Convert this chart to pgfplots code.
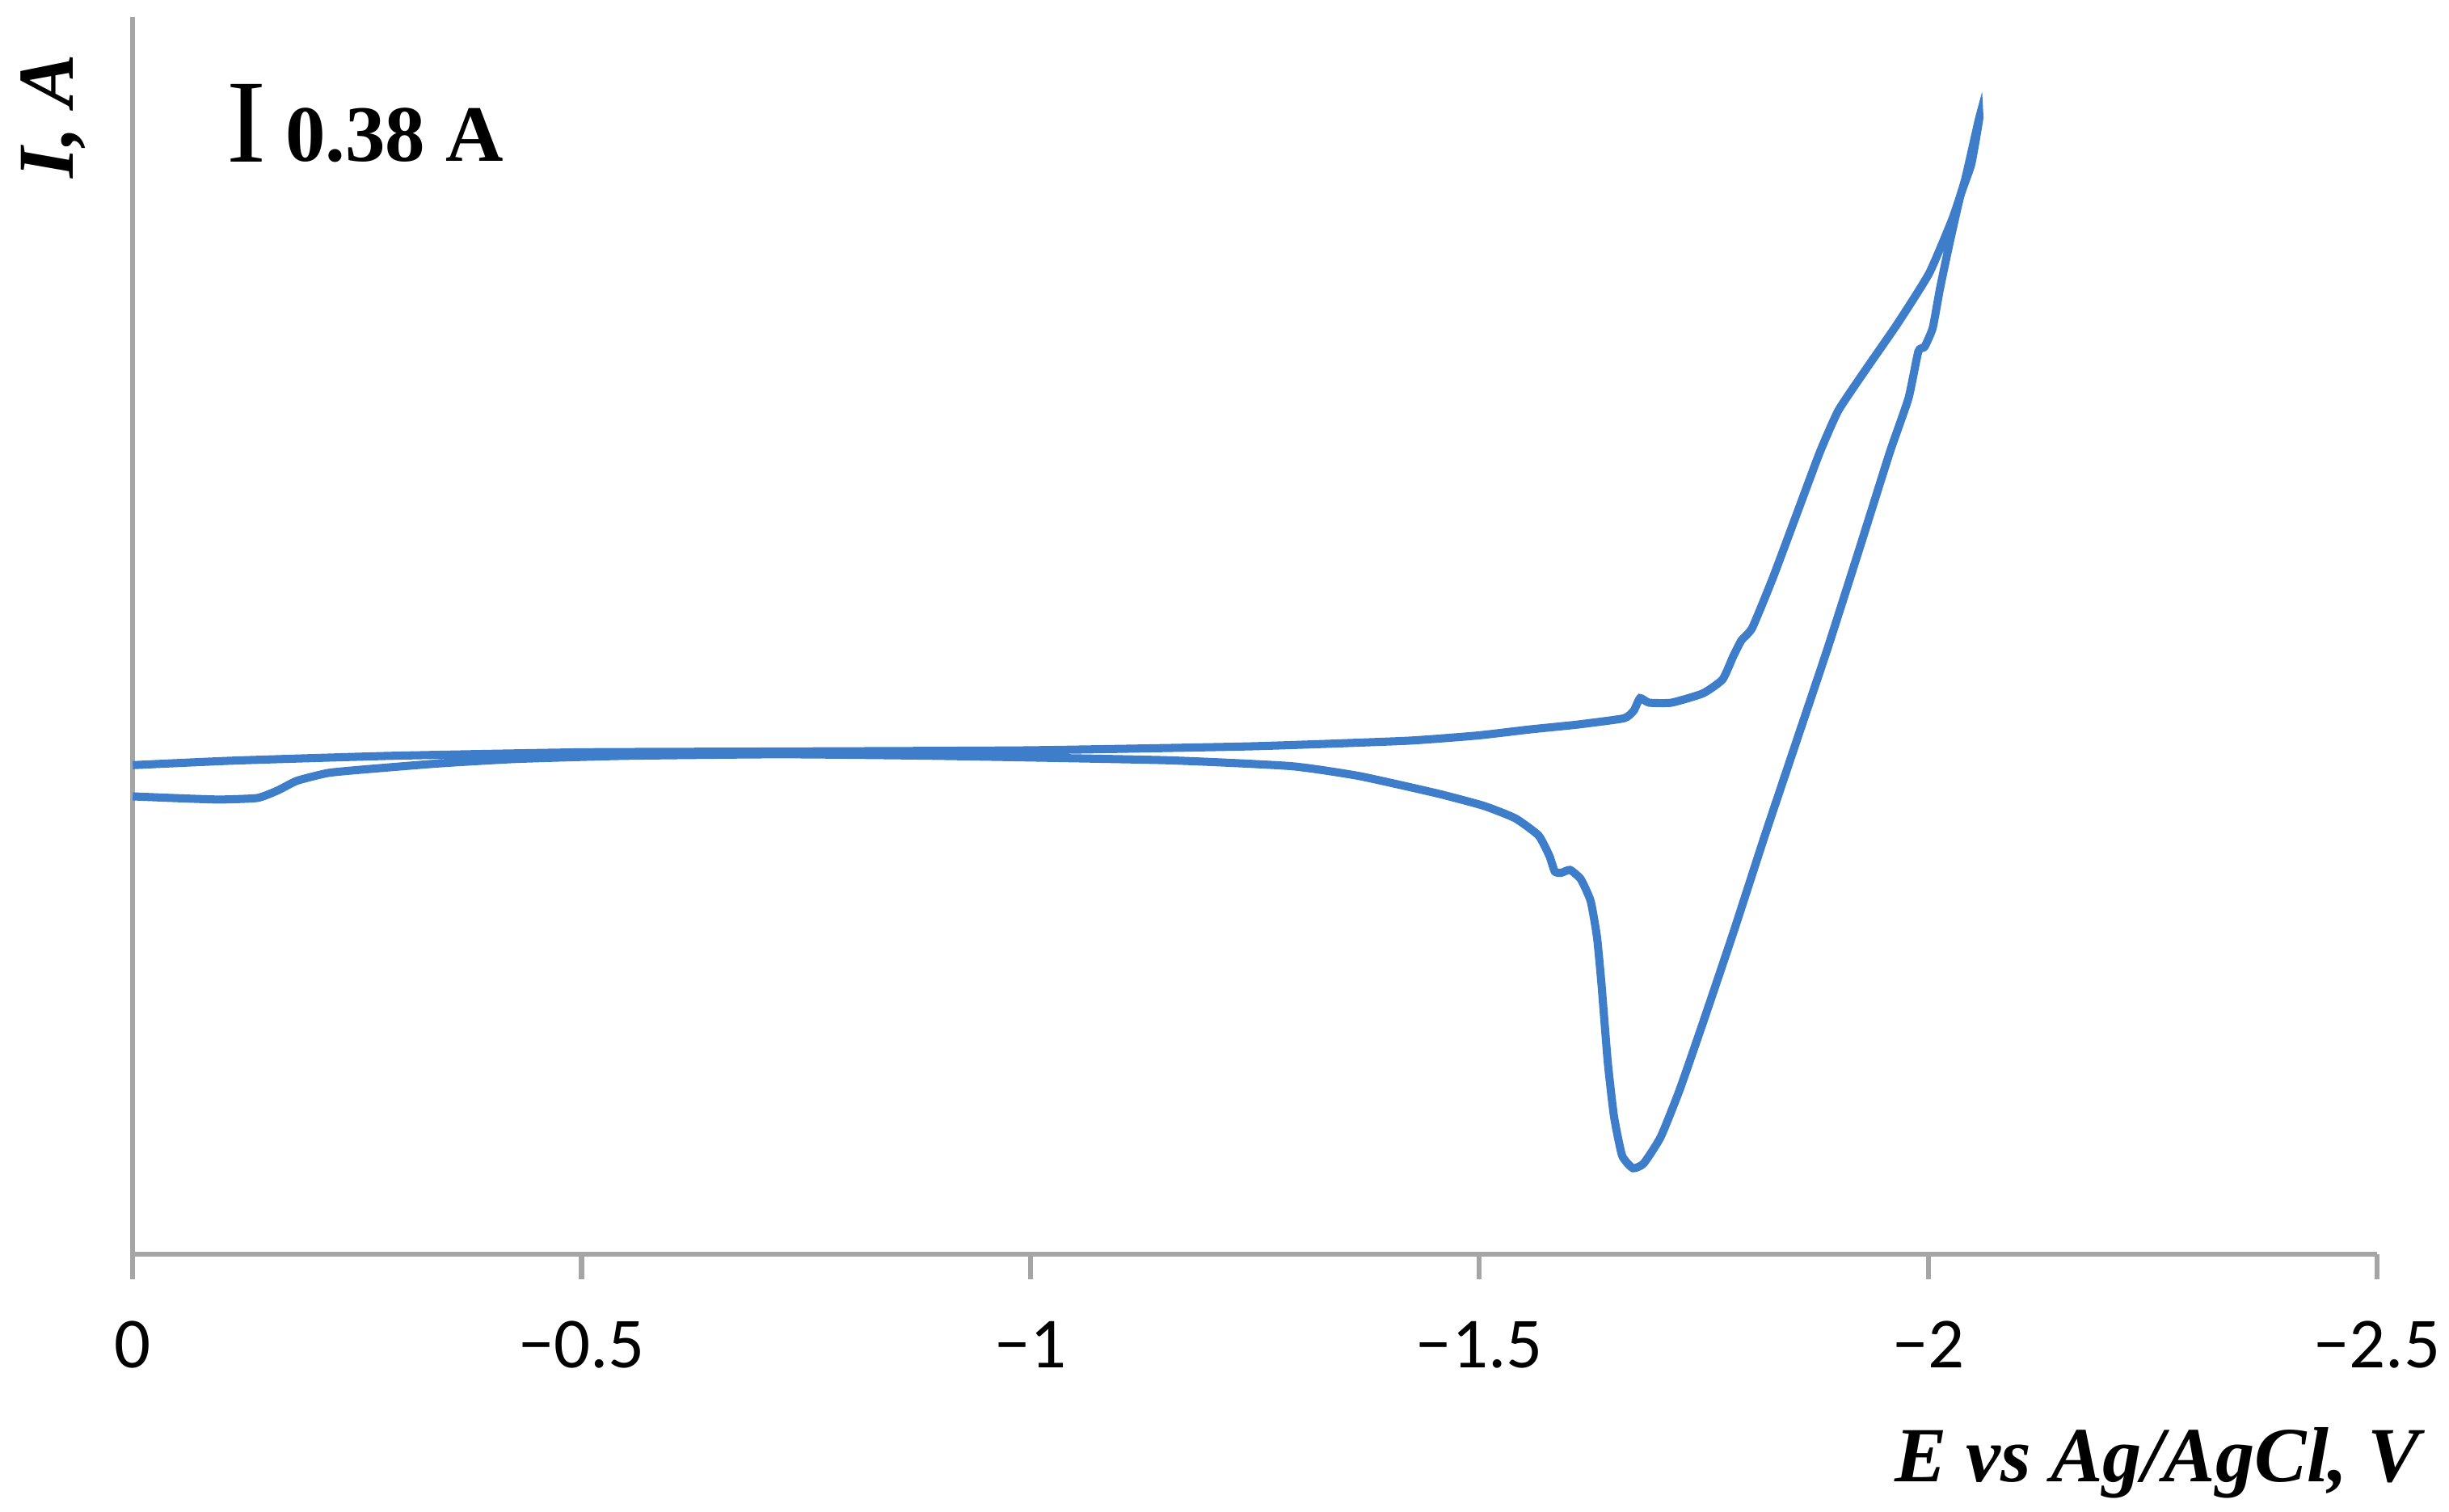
\documentclass[border=0pt]{standalone}
\usepackage{fontspec}
\setmainfont{Liberation Serif}
\newfontfamily\tickfont{Carlito}
\usepackage{pgfplots}
\pgfplotsset{compat=1.18}
\definecolor{axisgray}{RGB}{165,165,165}
\definecolor{cvblue}{RGB}{61,125,201}

\begin{document}
\begin{tikzpicture}
\useasboundingbox (0,0) rectangle (392pt,242pt);
\begin{axis}[
    at={(21.25pt,41.25pt)}, anchor=south west,
    scale only axis, width=359.25pt, height=198pt,
    xmin=-2.5, xmax=0, ymin=-2.528, ymax=3.729,
    x dir=reverse,
    axis x line=bottom, axis y line=left,
    axis line style={axisgray, line width=0.8pt, -},
    ytick=\empty,
    xtick={0,-0.5,-1,-1.5,-2,-2.5},
    xticklabels={0,−0.5,−1,−1.5,−2,−2.5},
    tick align=outside, major tick length=4pt,
    tick style={axisgray, line width=0.8pt},
    xticklabel style={font=\tickfont\fontsize{11.5}{12}\selectfont, anchor=center, yshift=-10.5pt},
    clip=false,
]
% cyclic voltammogram, forward (cathodic) scan then return
\addplot[cvblue, line width=1.3pt, smooth, tension=0.3] coordinates {
    (0, -0.055) (-0.113, -0.032) (-0.287, -0.008) (-0.499, 0.010)
    (-0.722, 0.014) (-0.997, 0.020) (-1.244, 0.040) (-1.418, 0.068)
    (-1.498, 0.095) (-1.557, 0.126) (-1.609, 0.150) (-1.661, 0.182)
    (-1.672, 0.221) (-1.679, 0.284) (-1.689, 0.261) (-1.714, 0.261)
    (-1.749, 0.308) (-1.771, 0.379) (-1.783, 0.498) (-1.792, 0.577)
    (-1.804, 0.640) (-1.827, 0.893) (-1.853, 1.209) (-1.879, 1.525)
    (-1.900, 1.740) (-1.931, 1.950) (-1.966, 2.180) (-2.001, 2.433)
    (-2.027, 2.710) (-2.041, 2.907) (-2.057, 3.223)
    (-2.048, 2.986) (-2.036, 2.828) (-2.024, 2.591) (-2.013, 2.354)
    (-2.005, 2.157) (-1.996, 2.062) (-1.989, 2.038) (-1.978, 1.801)
    (-1.957, 1.525) (-1.923, 1.035) (-1.888, 0.537) (-1.853, 0.063)
    (-1.818, -0.411) (-1.783, -0.901) (-1.749, -1.359) (-1.723, -1.699)
    (-1.702, -1.936) (-1.683, -2.070) (-1.671, -2.094) (-1.659, -2.030)
    (-1.650, -1.833) (-1.643, -1.556) (-1.636, -1.161) (-1.631, -0.924)
    (-1.624, -0.743) (-1.613, -0.632) (-1.601, -0.585) (-1.591, -0.600)
    (-1.584, -0.593) (-1.578, -0.514) (-1.566, -0.411) (-1.540, -0.324)
    (-1.505, -0.261) (-1.453, -0.198) (-1.366, -0.110) (-1.290, -0.060)
    (-1.150, -0.030) (-0.896, -0.008) (-0.722, 0.000) (-0.548, -0.008)
    (-0.426, -0.024) (-0.339, -0.047) (-0.252, -0.079) (-0.217, -0.095)
    (-0.183, -0.134) (-0.162, -0.182) (-0.139, -0.221) (-0.096, -0.229)
    (-0.043, -0.221) (0, -0.213)
};
\end{axis}
\node[rotate=90, inner sep=0, font=\fontsize{12.7}{13}\selectfont\bfseries\itshape] at (8.5pt,223.4pt) {I, A};
\node[inner sep=0, font=\fontsize{19}{19}\selectfont] at (39.5pt,222.25pt) {I};
\node[inner sep=0, anchor=base west, font=\fontsize{12.8}{13}\selectfont\bfseries] at (45.5pt,216.25pt) {0.38 A};
\node[inner sep=0, anchor=base east, font=\fontsize{12.5}{13}\selectfont\bfseries\itshape] at (387.5pt,4.75pt) {E vs Ag/AgCl, V};
\end{tikzpicture}
\end{document}
